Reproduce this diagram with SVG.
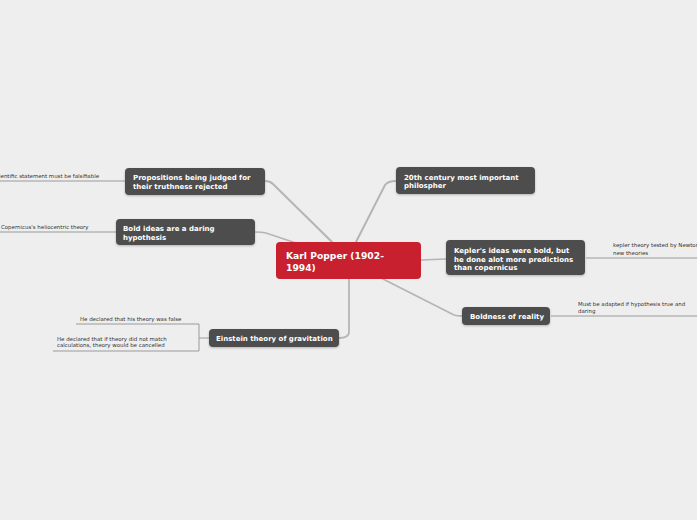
<svg xmlns="http://www.w3.org/2000/svg" width="697" height="520" viewBox="0 0 697 520">
<defs>
<style>
.bg{fill:#eeeeee}
.node{fill:#4d4d4d}
.root{fill:#c8202f}
.nt{font-family:"DejaVu Sans",Verdana,sans-serif;font-weight:bold;font-size:7px;fill:#ffffff}
.rt{font-family:"DejaVu Sans",Verdana,sans-serif;font-weight:bold;font-size:9.2px;fill:#ffffff}
.lt{font-family:"DejaVu Sans",Verdana,sans-serif;font-size:5.45px;fill:#333333}
.c{fill:none;stroke:#b5b5b5;stroke-linecap:round}
.leaf{fill:none;stroke:#9a9a9a;stroke-width:1}
</style>
<filter id="sh" x="-10%" y="-20%" width="120%" height="150%">
<feDropShadow dx="0" dy="1" stdDeviation="1" flood-color="#000" flood-opacity="0.25"/>
</filter>
</defs>
<rect class="bg" x="0" y="0" width="697" height="520"/>
<g id="connectors">
<path class="c" stroke-width="2" d="M333,243 L273,184 Q270,181 265,181"/>
<path class="c" stroke-width="1.6" d="M296,243 Q275,236 266,233 Q262,232 255,232"/>
<path class="c" stroke-width="2" d="M356,242 L385,185 Q388,181 396,181"/>
<path class="c" stroke-width="1.4" d="M421,260 L446,259"/>
<path class="c" stroke-width="1.8" d="M383,279 L454,315 Q457,316 462,316"/>
<path class="c" stroke-width="1.8" d="M349,279 L349,332 Q349,338 339,338"/>
<path class="leaf" d="M0,181 L125,181"/>
<path class="leaf" d="M0,232 L116,232"/>
<path class="leaf" d="M209,338 L199,338 M76,324 L199,324 L199,351 L53,351"/>
<path class="leaf" d="M586,258 L697,258"/>
<path class="leaf" d="M551,316 L697,316"/>
</g>
<g id="root">
<rect class="root" x="276" y="242" width="145" height="37" rx="4"/>
<text class="rt" x="286" y="259">Karl Popper (1902-</text>
<text class="rt" x="286" y="271">1994)</text>
</g>
<g id="n-propositions">
<rect class="node" filter="url(#sh)" x="125" y="168" width="140" height="27" rx="4"/>
<text class="nt" x="133" y="180">Propositions being judged for</text>
<text class="nt" x="133" y="189">their truthness rejected</text>
</g>
<g id="n-bold">
<rect class="node" filter="url(#sh)" x="116" y="219" width="139" height="26" rx="4"/>
<text class="nt" x="123" y="231">Bold ideas are a daring</text>
<text class="nt" x="123" y="240">hypothesis</text>
</g>
<g id="n-einstein">
<rect class="node" filter="url(#sh)" x="209" y="329" width="130" height="18" rx="4"/>
<text class="nt" x="216" y="341">Einstein theory of gravitation</text>
</g>
<g id="n-20th">
<rect class="node" filter="url(#sh)" x="396" y="167" width="139" height="27" rx="4"/>
<text class="nt" x="404" y="180">20th century most important</text>
<text class="nt" x="404" y="188">philospher</text>
</g>
<g id="n-kepler">
<rect class="node" filter="url(#sh)" x="446" y="240" width="139" height="35" rx="4"/>
<text class="nt" x="454" y="253">Kepler's ideas were bold, but</text>
<text class="nt" x="454" y="261.5">he done alot more predictions</text>
<text class="nt" x="454" y="270">than copernicus</text>
</g>
<g id="n-boldness">
<rect class="node" filter="url(#sh)" x="462" y="307" width="88" height="18" rx="4"/>
<text class="nt" x="470" y="319">Boldness of reality</text>
</g>
<g id="leaves">
<text class="lt" x="99" y="178" text-anchor="end">Scientific statement must be falsifiable</text>
<text class="lt" x="1" y="229">Copernicus's heliocentric theory</text>
<text class="lt" x="80" y="321">He declared that his theory was false</text>
<text class="lt" x="57" y="340.5">He declared that if theory did not match</text>
<text class="lt" x="57" y="347">calculations, theory would be cancelled</text>
<text class="lt" x="613" y="247">kepler theory tested by Newton</text>
<text class="lt" x="613" y="254.5">new theories</text>
<text class="lt" x="578" y="305.5">Must be adapted if hypothesis true and</text>
<text class="lt" x="578" y="313">daring</text>
</g>
</svg>
